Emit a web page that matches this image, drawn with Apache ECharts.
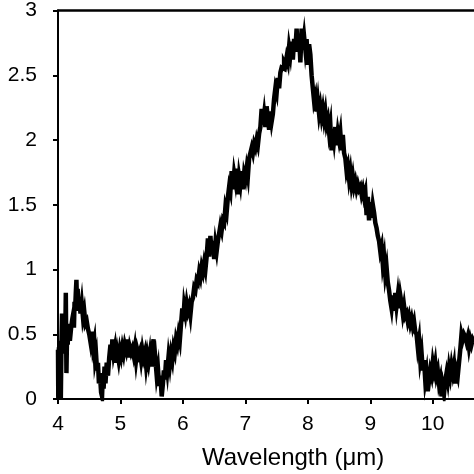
<!DOCTYPE html>
<html>
<head>
<meta charset="utf-8">
<script src="https://cdn.jsdelivr.net/npm/echarts@6/dist/echarts.min.js"></script>
<style>
html,body{margin:0;padding:0;background:#fff;}
#c{width:474px;height:474px;}
</style>
</head>
<body>
<div id="c"></div>
<script>
const xTickLabels = ['4','5','6','7','8','9','10'];
const yTickLabels = ['0','0.5','1','1.5','2','2.5','3'];
const axisTitle = 'Wavelength (\u03bcm)';

const wavelength = [
4.00,4.01,4.02,4.03,4.04,4.05,4.06,4.07,4.08,4.09,4.10,4.11,4.12,4.13,4.14,4.15,4.16,4.18,4.20,4.22,
4.24,4.25,4.26,4.27,4.28,4.29,4.30,4.31,4.32,4.33,4.35,4.37,4.39,4.41,4.43,4.45,4.47,4.49,4.51,4.53,
4.55,4.57,4.59,4.60,4.62,4.63,4.65,4.66,4.68,4.70,4.71,4.72,4.74,4.75,4.77,4.79,4.81,4.83,4.85,4.86,
4.88,4.90,4.92,4.94,4.96,4.98,5.00,5.02,5.04,5.06,5.08,5.10,5.12,5.14,5.16,5.18,5.20,5.22,5.24,5.26,
5.28,5.30,5.32,5.34,5.36,5.38,5.40,5.42,5.44,5.46,5.48,5.50,5.52,5.54,5.55,5.57,5.59,5.61,5.63,5.65,
5.67,5.69,5.70,5.72,5.74,5.76,5.78,5.80,5.82,5.84,5.86,5.88,5.90,5.92,5.94,5.96,5.98,6.00,6.01,6.03,
6.05,6.07,6.09,6.11,6.13,6.15,6.17,6.19,6.21,6.23,6.25,6.27,6.29,6.31,6.33,6.35,6.37,6.39,6.41,6.43,
6.45,6.47,6.49,6.51,6.53,6.55,6.57,6.59,6.61,6.63,6.65,6.67,6.69,6.71,6.73,6.75,6.77,6.79,6.81,6.83,
6.85,6.87,6.89,6.91,6.93,6.95,6.97,6.99,7.01,7.03,7.05,7.07,7.09,7.11,7.13,7.15,7.17,7.19,7.21,7.23,
7.25,7.27,7.29,7.31,7.33,7.35,7.37,7.39,7.41,7.43,7.45,7.47,7.49,7.51,7.53,7.55,7.57,7.59,7.61,7.63,
7.65,7.67,7.69,7.71,7.73,7.75,7.77,7.79,7.81,7.83,7.85,7.87,7.89,7.91,7.93,7.95,7.97,7.99,8.01,8.03,
8.05,8.07,8.09,8.11,8.13,8.15,8.17,8.19,8.21,8.23,8.25,8.27,8.29,8.31,8.33,8.35,8.37,8.39,8.41,8.43,
8.45,8.47,8.49,8.51,8.53,8.55,8.57,8.59,8.61,8.63,8.65,8.67,8.69,8.71,8.73,8.75,8.77,8.79,8.81,8.83,
8.85,8.87,8.89,8.91,8.93,8.95,8.97,8.99,9.01,9.03,9.05,9.07,9.09,9.11,9.13,9.15,9.17,9.19,9.21,9.23,
9.25,9.27,9.29,9.31,9.33,9.35,9.37,9.39,9.41,9.43,9.45,9.47,9.49,9.51,9.53,9.55,9.57,9.59,9.61,9.63,
9.65,9.67,9.69,9.71,9.73,9.75,9.77,9.79,9.81,9.83,9.85,9.87,9.89,9.91,9.93,9.95,9.97,9.99,10.01,10.03,
10.05,10.07,10.09,10.11,10.13,10.15,10.17,10.19,10.21,10.23,10.25,10.27,10.29,10.31,10.33,10.35,10.37,10.39,10.41,10.43,
10.45,10.47,10.49,10.51,10.53,10.55,10.57,10.59,10.61,10.63,10.65,10.67
];
const intensity = [
0.38,0.00,0.40,0.30,0.45,0.00,0.42,0.66,0.35,0.50,0.40,0.55,0.42,0.82,0.20,0.50,0.42,0.58,0.45,0.55,
0.62,0.66,0.55,0.75,0.70,0.82,0.92,0.72,0.85,0.68,0.78,0.66,0.74,0.63,0.68,0.58,0.60,0.54,0.50,0.44,
0.52,0.40,0.45,0.30,0.34,0.22,0.28,0.12,0.20,0.05,0.02,0.15,0.08,0.25,0.12,0.28,0.18,0.32,0.42,0.30,
0.46,0.35,0.40,0.28,0.36,0.30,0.38,0.33,0.40,0.35,0.42,0.38,0.46,0.32,0.40,0.36,0.39,0.34,0.40,0.30,
0.38,0.34,0.37,0.30,0.38,0.32,0.36,0.26,0.34,0.28,0.35,0.25,0.40,0.46,0.25,0.30,0.18,0.24,0.10,0.18,
0.02,0.12,0.22,0.15,0.30,0.22,0.33,0.26,0.35,0.30,0.40,0.36,0.46,0.42,0.50,0.45,0.58,0.70,0.60,0.72,
0.66,0.74,0.68,0.72,0.65,0.75,0.78,0.86,0.84,0.92,0.90,0.98,0.94,1.02,0.98,1.05,1.00,1.10,1.24,1.10,
1.26,1.12,1.22,1.08,1.20,1.14,1.22,1.28,1.34,1.30,1.38,1.36,1.48,1.44,1.56,1.64,1.60,1.76,1.62,1.74,
1.68,1.78,1.58,1.72,1.66,1.76,1.62,1.74,1.70,1.78,1.72,1.86,1.90,1.94,1.90,1.97,1.94,2.00,1.96,2.05,
2.10,2.24,2.12,2.20,2.10,2.26,2.16,2.08,2.22,2.14,2.20,2.32,2.40,2.36,2.48,2.40,2.52,2.56,2.55,2.60,
2.58,2.64,2.60,2.72,2.66,2.76,2.62,2.78,2.70,2.86,2.68,2.80,2.60,2.86,2.72,2.80,2.70,2.78,2.58,2.74,
2.66,2.50,2.40,2.30,2.34,2.22,2.30,2.20,2.26,2.18,2.24,2.16,2.22,2.12,2.16,2.06,2.12,1.92,2.08,2.00,
2.10,1.96,2.06,2.00,2.06,1.92,2.04,1.90,1.86,1.76,1.80,1.70,1.76,1.66,1.72,1.64,1.68,1.62,1.66,1.62,
1.64,1.58,1.62,1.56,1.60,1.42,1.56,1.38,1.52,1.40,1.50,1.44,1.36,1.32,1.26,1.22,1.14,1.18,1.04,1.10,
0.96,1.02,0.90,0.84,0.76,0.70,0.80,0.68,0.82,0.72,0.80,0.70,0.80,0.74,0.66,0.72,0.64,0.66,0.60,0.64,
0.58,0.62,0.56,0.60,0.52,0.50,0.40,0.46,0.30,0.36,0.22,0.30,0.14,0.20,0.06,0.14,0.22,0.18,0.28,0.22,
0.28,0.18,0.22,0.12,0.16,0.02,0.10,0.04,0.14,0.20,0.14,0.24,0.18,0.26,0.20,0.26,0.12,0.22,0.18,0.28,
0.38,0.50,0.46,0.50,0.48,0.44,0.48,0.40,0.46,0.42,0.46,0.44
];

const points = wavelength.map((w, i) => [w, intensity[i]]);
const font = '"Liberation Sans", Arial, sans-serif';

const chart = echarts.init(document.getElementById('c'), null, {renderer: 'canvas'});
chart.setOption({
  animation: false,
  backgroundColor: '#fff',
  grid: {left: 58, right: 0, top: 6, bottom: 75, containLabel: false},
  xAxis: [{
    type: 'value', min: 4, max: 10.66, interval: 1, position: 'bottom',
    axisLine: {show: true, onZero: false, lineStyle: {color: '#000', width: 2}},
    axisTick: {show: true, length: 5, lineStyle: {color: '#000', width: 2}},
    axisLabel: {
      color: '#000', fontFamily: font, fontSize: 21, margin: 15, showMaxLabel: false,
      formatter: v => { const s = String(Math.round(v)); return (Math.abs(v - Math.round(v)) < 1e-6 && xTickLabels.includes(s)) ? s : ''; }
    },
    splitLine: {show: false}
  }, {
    type: 'value', min: 4, max: 10.66, position: 'top',
    axisLine: {show: true, onZero: false, lineStyle: {color: '#000', width: 2.5}},
    axisTick: {show: false}, axisLabel: {show: false}, splitLine: {show: false}
  }],
  yAxis: {
    type: 'value', min: 0, max: 3, interval: 0.5,
    axisLine: {show: true, onZero: false, lineStyle: {color: '#000', width: 2}},
    axisTick: {show: true, length: 5, lineStyle: {color: '#000', width: 2}},
    axisLabel: {
      color: '#000', fontFamily: font, fontSize: 21, margin: 21,
      formatter: v => { const s = String(v); return yTickLabels.includes(s) ? s : ''; }
    },
    splitLine: {show: false}
  },
  graphic: [{
    type: 'text', left: 202, top: 446,
    style: {text: axisTitle, fill: '#000', font: '24px "Liberation Sans", Arial, sans-serif'}
  }],
  series: [{
    type: 'line', xAxisIndex: 0, data: points, step: 'middle',
    showSymbol: false, clip: true,
    lineStyle: {color: '#000', width: 4.5, join: 'miter'}
  }]
});
</script>
</body>
</html>
